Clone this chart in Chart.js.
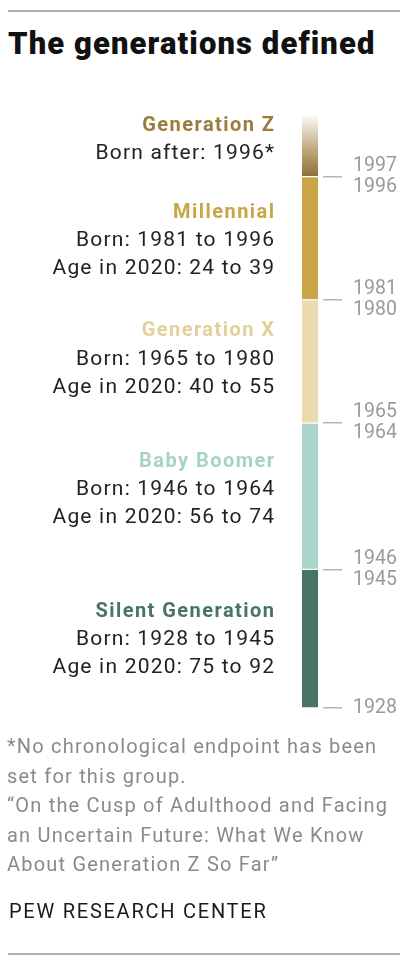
<!DOCTYPE html>
<html>
<head>
<meta charset="utf-8">
<script src="https://cdn.jsdelivr.net/npm/chart.js@4.4.1/dist/chart.umd.min.js"></script>
<style>
  html, body { margin: 0; padding: 0; background: #fff; }
  body { width: 412px; height: 960px; position: relative; overflow: hidden; font-family: Roboto, "Noto Sans", sans-serif; }
  #chart { position: absolute; left: 0; top: 0; }
  .rule { position: absolute; left: 8px; width: 392px; height: 2px; background: #b0b0b0; }
  .title { position: absolute; left: 8px; top: 26px; font-size: 31px; line-height: 36px; font-weight: 900; color: #111; letter-spacing: 1.1px; white-space: nowrap; }
  .notes { position: absolute; left: 7px; top: 732px; font-size: 20px; line-height: 29.5px; color: #8a8a8a; letter-spacing: 1.2px; white-space: nowrap; }
  .source { position: absolute; left: 9px; top: 899px; font-size: 20px; line-height: 24px; color: #1a1a1a; letter-spacing: 1.75px; white-space: nowrap; }
</style>
</head>
<body>
<div class="rule" style="top:10px"></div>
<div class="title">The generations defined</div>
<canvas id="chart" width="412" height="960"></canvas>
<div class="notes">*No chronological endpoint has been<br>set for this group.<br>“On the Cusp of Adulthood and Facing<br>an Uncertain Future: What We Know<br>About Generation Z So Far”</div>
<div class="source">PEW RESEARCH CENTER</div>
<div class="rule" style="top:953px"></div>
<script>
// generations, oldest first
const generations = ['Silent Generation', 'Baby Boomer', 'Generation X', 'Millennial', 'Generation Z'];
const bornFrom = [1928, 1946, 1965, 1981, 1997];
const bornTo = [1945, 1964, 1980, 1996, null]; // Gen Z has no endpoint yet
const ageIn2020 = ['75 to 92', '56 to 74', '40 to 55', '24 to 39', null];

const yearMin = 1928;
const yearMax = 2005;
const tickYears = [1928, 1946, 1965, 1981, 1997];
const tickLabels = [['1928'], ['1946', '1945'], ['1965', '1964'], ['1981', '1980'], ['1997', '1996']];

const barColors = ['#477565', '#a9d5cb', '#e9daaf', '#c9a546', null];
const headerColors = ['#477565', '#a6d3c8', '#e4d09d', '#c9a546', '#9a7c3b'];
const labelShift = [1, -6, -2, 3, -6];

function genZFill(context) {
    const chart = context.chart;
    if (!chart.chartArea) return '#8f7538';
    const y = chart.scales.y;
    const g = chart.ctx.createLinearGradient(0, y.getPixelForValue(yearMax), 0, y.getPixelForValue(bornFrom[4]));
    g.addColorStop(0, '#fdfcfa');
    g.addColorStop(0.5, '#c4b189');
    g.addColorStop(1, '#8d7236');
    return g;
}

function labelLines(i) {
    if (bornTo[i] === null) {
        return [generations[i], 'Born after: ' + (bornFrom[i] - 1) + '*'];
    }
    return [generations[i], 'Born: ' + bornFrom[i] + ' to ' + bornTo[i], 'Age in 2020: ' + ageIn2020[i]];
}

const genLabels = {
    id: 'genLabels',
    afterDatasetsDraw(chart) {
        const c = chart.ctx;
        c.save();
        c.textAlign = 'right';
        c.textBaseline = 'middle';
        chart.data.datasets.forEach(function (ds, i) {
            const bar = chart.getDatasetMeta(i).data[0];
            const mid = (bar.y + bar.base) / 2 + labelShift[i];
            const lines = labelLines(i);
            const top = mid - (lines.length - 1) * 14;
            lines.forEach(function (t, j) {
                let sp;
                if (j === 0) {
                    c.font = 'bold 20px Roboto';
                    sp = 1.45;
                    c.fillStyle = headerColors[i];
                } else {
                    c.font = '21px Roboto';
                    sp = 1.2;
                    c.fillStyle = '#222222';
                }
                c.letterSpacing = sp + 'px';
                // trailing letter spacing pushes right-aligned text left, so compensate
                c.fillText(t, 274 + sp, top + j * 28);
            });
        });
        c.restore();
    }
};

const datasets = generations.map(function (name, i) {
    const end = bornTo[i] === null ? yearMax : bornTo[i] + 1;
    return {
        label: name,
        data: [[bornFrom[i], end]],
        backgroundColor: barColors[i] === null ? genZFill : barColors[i],
        borderColor: '#ffffff',
        borderWidth: { top: 1, bottom: 1, left: 0, right: 0 },
        borderSkipped: false,
        barThickness: 16
    };
});

new Chart(document.getElementById('chart'), {
    type: 'bar',
    data: { labels: [''], datasets: datasets },
    options: {
        responsive: false,
        animation: false,
        devicePixelRatio: 1,
        layout: { padding: { left: 297, right: 0, top: 115, bottom: 252 } },
        plugins: { legend: { display: false }, tooltip: { enabled: false } },
        scales: {
            x: { display: false, stacked: true },
            y: {
                position: 'right',
                min: yearMin,
                max: yearMax,
                stacked: false,
                border: { display: false },
                grid: { drawOnChartArea: false, drawTicks: true, tickLength: 19, color: '#b5b5b5', lineWidth: 1.5 },
                afterBuildTicks: function (scale) {
                    scale.ticks = tickYears.map(function (v) { return { value: v }; });
                },
                afterFit: function (scale) { scale.width = 89; },
                ticks: {
                    autoSkip: false,
                    color: '#9a9a9a',
                    padding: 11,
                    font: { family: 'Roboto', size: 19.5, lineHeight: 1.08 },
                    callback: function (value) {
                        const k = tickYears.indexOf(value);
                        return k >= 0 ? tickLabels[k] : '';
                    }
                }
            }
        }
    },
    plugins: [genLabels]
});
</script>
</body>
</html>
